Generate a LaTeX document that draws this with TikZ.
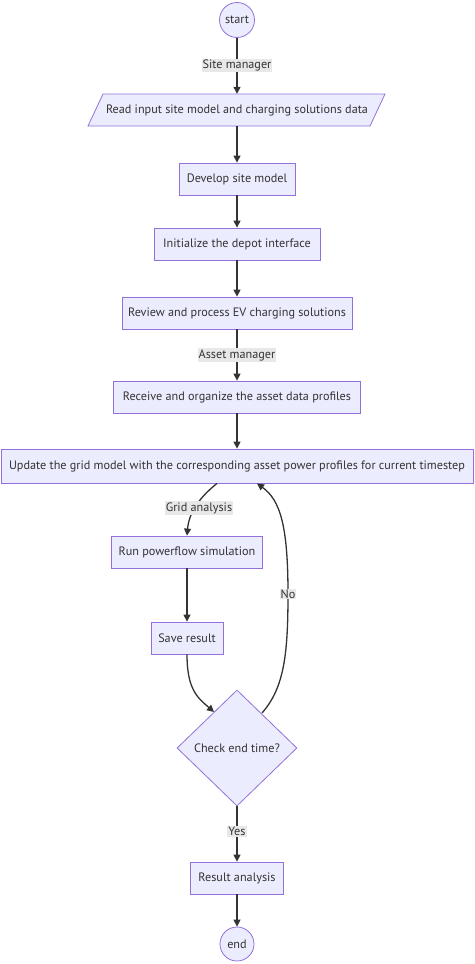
\documentclass[tikz,border=0pt]{standalone}
\usepackage{fontspec}
\setmainfont{PT Sans}
\usetikzlibrary{shapes.geometric,arrows.meta}
\definecolor{nfill}{HTML}{ECECFF}
\definecolor{nline}{HTML}{9370DB}
\definecolor{txt}{HTML}{333333}
\definecolor{lbl}{HTML}{E8E8E8}
\begin{document}
\begin{tikzpicture}[x=1pt,y=-1pt,
  font=\fontsize{12.2}{14}\selectfont,
  box/.style={rectangle, draw=nline, fill=nfill, line width=0.8pt, text=txt, minimum height=32pt, inner sep=0pt},
  term/.style={circle, draw=nline, fill=nfill, line width=0.8pt, text=txt, minimum size=35pt, inner sep=0pt},
  dec/.style={diamond, draw=nline, fill=nfill, line width=0.8pt, text=txt, minimum width=120pt, minimum height=116pt, inner sep=0pt, aspect=1},
  elabel/.style={fill=lbl, text=txt, inner sep=1pt},
  arr/.style={draw=txt, line width=1.3pt, -{Triangle[length=7pt,width=7pt]}}]
\useasboundingbox (0,0) rectangle (474,964);

% parallelogram shape
\filldraw[draw=nline, fill=nfill, line width=0.8pt] (88,126) -- (103,94) -- (385,94) -- (370,126) -- cycle;

\node[term] (start) at (237,20) {start};
\node[rectangle, minimum width=282pt, minimum height=32pt, inner sep=0pt, text=txt] (read) at (237,110) {Read input site model and charging solutions data};
\node[box, minimum width=116pt] (dev) at (237,179) {Develop site model};
\node[box, minimum width=166pt] (init) at (237,244) {Initialize the depot interface};
\node[box, minimum width=230pt] (rev) at (237,313) {Review and process EV charging solutions};
\node[box, minimum width=247pt] (recv) at (237,397) {Receive and organize the asset data profiles};
\node[box, minimum width=472pt, minimum height=34pt] (upd) at (237,466) {Update the grid model with the corresponding asset power profiles for current timestep};
\node[box, minimum width=151pt] (run) at (187,552) {Run powerflow simulation};
\node[box, minimum width=72pt] (save) at (187,638) {Save result};
\node[dec] (chk) at (237,748) {Check end time?};
\node[box, minimum width=93pt] (res) at (237,878) {Result analysis};
\node[term, minimum size=34pt] (end) at (237,944) {end};

\draw[arr] (start) -- node[elabel] {Site manager} (read);
\draw[arr] (read) -- (dev);
\draw[arr] (dev) -- (init);
\draw[arr] (init) -- (rev);
\draw[arr] (rev) -- node[elabel] {Asset manager} (recv);
\draw[arr] (recv) -- (upd);
\draw[arr] ([xshift=-20pt]upd.south) .. controls (200,497) and (189,512) .. (run.north);
\node[elabel] (ga) at (199,508) {Grid analysis};
\draw[arr] (run) -- (save);
\draw[arr] (save.south) .. controls (187,690) and (198,698) .. ([shift={(-23,-36)}]chk.center);
\draw[arr] ([shift={(25,-35)}]chk.center) .. controls (284,688) and (288,655) .. (288,594)
  node[elabel] {No}
  .. controls (288,525) and (280,500) .. ([xshift=20pt]upd.south);
\draw[arr] (chk) -- node[elabel, pos=0.45] {Yes} (res);
\draw[arr] (res) -- (end);
\end{tikzpicture}
\end{document}
